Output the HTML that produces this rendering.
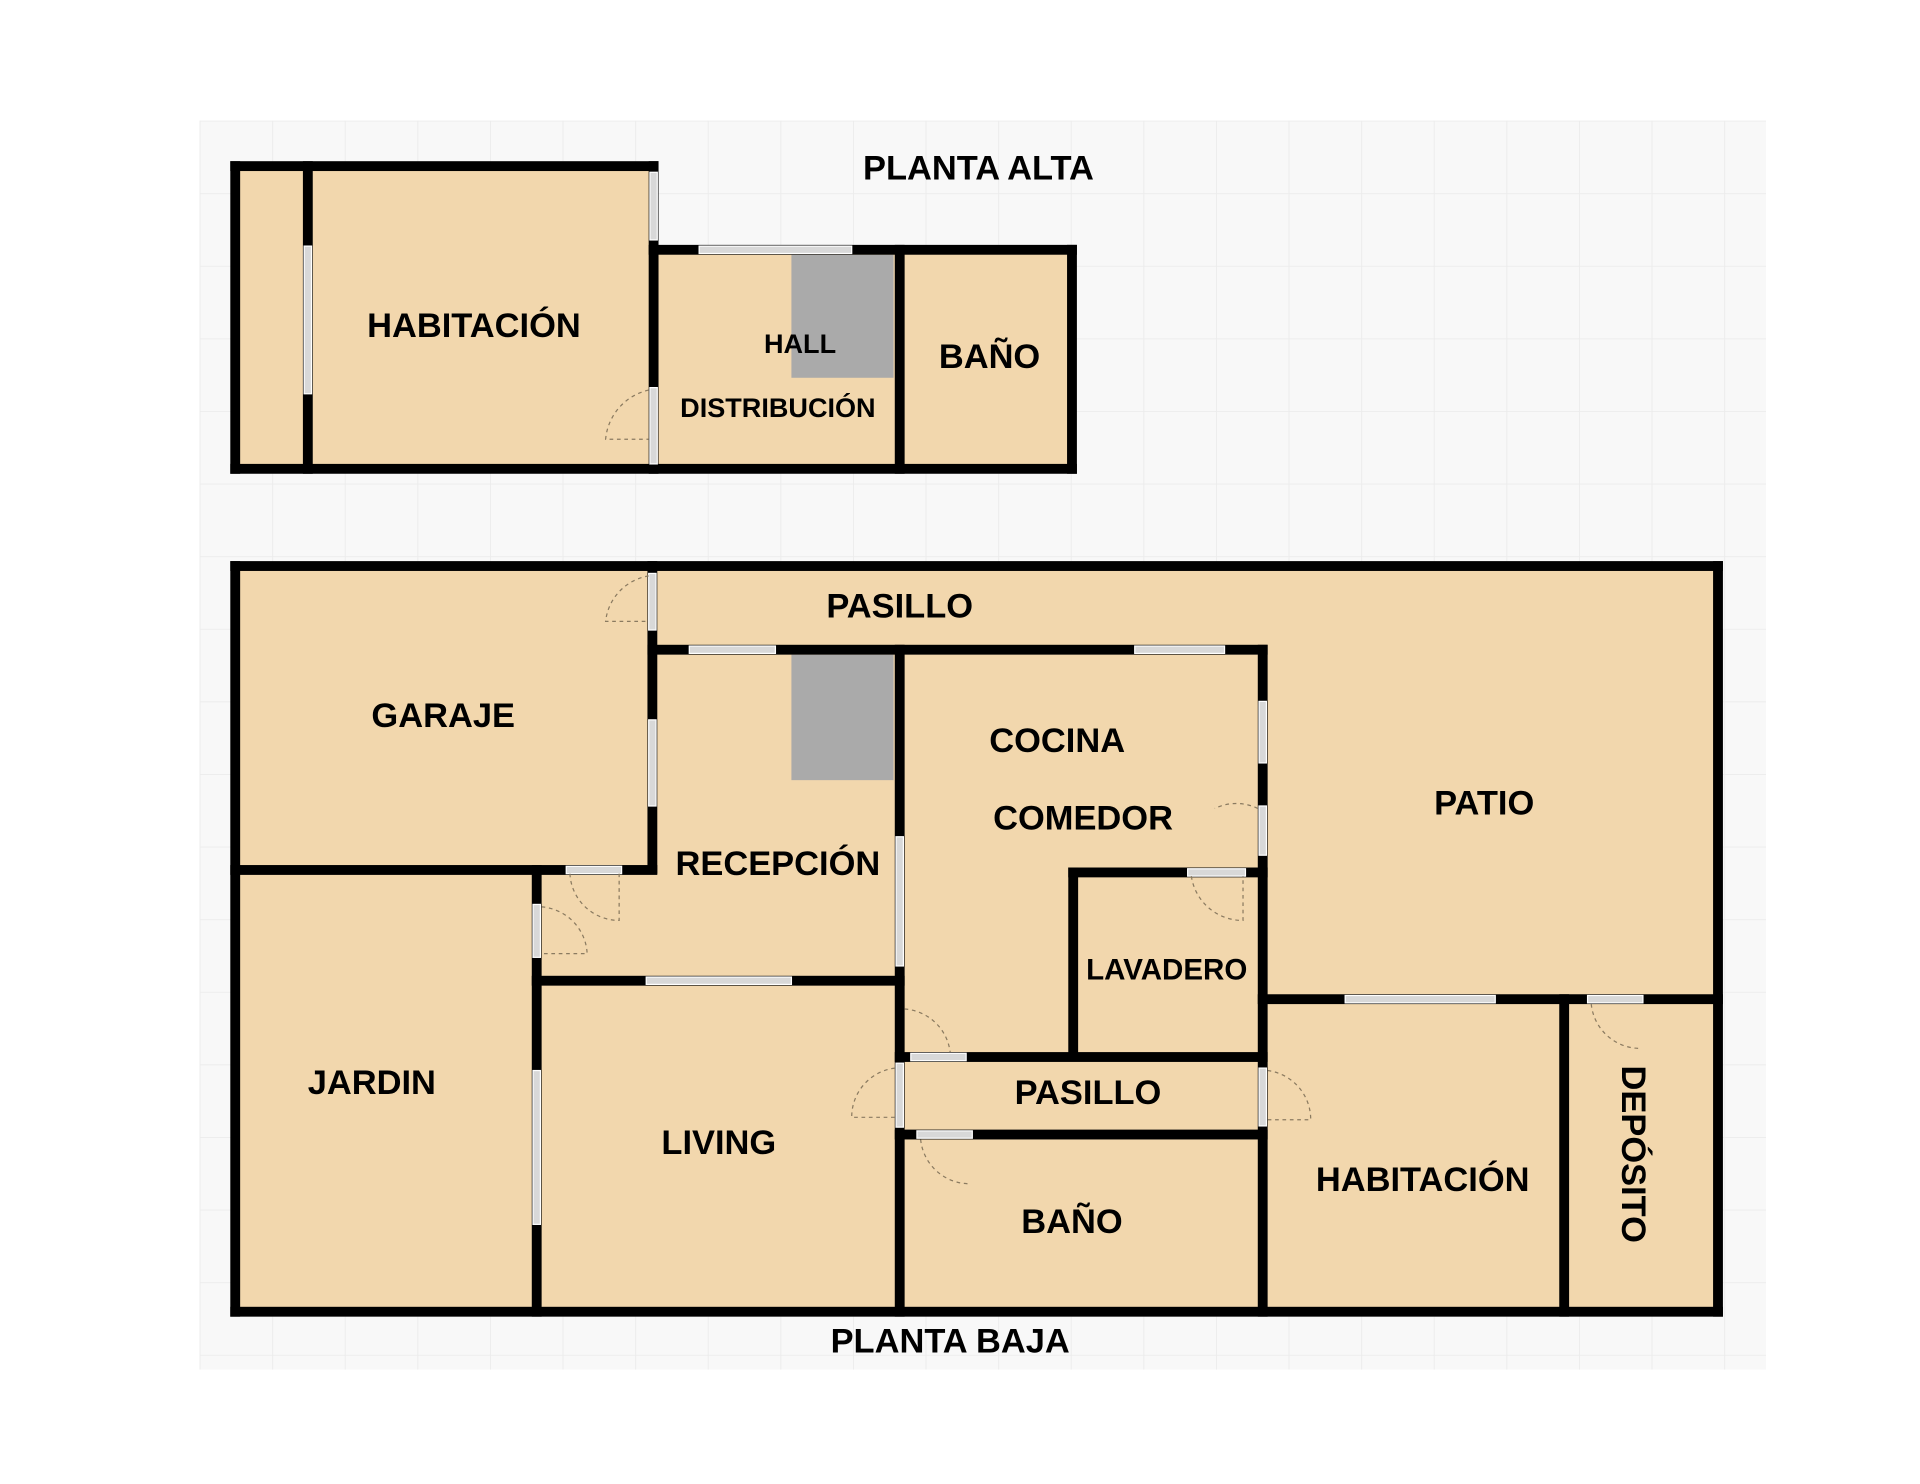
<!DOCTYPE html>
<html><head><meta charset="utf-8"><style>
html,body{margin:0;padding:0;background:#fff;}
svg{display:block;}
text{font-family:"Liberation Sans",sans-serif;font-weight:bold;fill:#000;}
</style></head><body>
<svg width="1920" height="1484" viewBox="0 0 1560 1206" xmlns="http://www.w3.org/2000/svg">
<defs>
<pattern id="g" x="162" y="98" width="59" height="59" patternUnits="userSpaceOnUse">
<path d="M0 0V59M0 0H59" stroke="#ececec" stroke-width="1.5" fill="none"/>
</pattern>
</defs>
<rect x="162" y="98" width="1273" height="1015" fill="#f8f8f8"/>
<rect x="162" y="98" width="1273" height="1015" fill="url(#g)"/>
<g fill="#f2d7ad">
<rect x="190" y="134" width="342" height="248"/>
<rect x="530" y="202" width="342" height="180"/>
<rect x="190" y="460" width="1207" height="607"/>
</g>
<g fill="#aaaaaa">
<rect x="643" y="207" width="83" height="100"/>
<rect x="643" y="532" width="83" height="102"/>
</g>
<g fill="#000">
<!-- upper -->
<rect x="187" y="131" width="348" height="8"/>
<rect x="187" y="131" width="8" height="254"/>
<rect x="246" y="131" width="8" height="254"/>
<rect x="527" y="131" width="8" height="254"/>
<rect x="527" y="199" width="348" height="8"/>
<rect x="727" y="199" width="8" height="186"/>
<rect x="867" y="199" width="8" height="186"/>
<rect x="187" y="377" width="688" height="8"/>
<!-- lower outer -->
<rect x="187" y="456" width="1213" height="8"/>
<rect x="187" y="1062" width="1213" height="8"/>
<rect x="187" y="456" width="8" height="614"/>
<rect x="1392" y="456" width="8" height="614"/>
<rect x="526" y="456" width="8" height="254"/>
<rect x="526" y="524" width="504" height="8"/>
<rect x="1022" y="524" width="8" height="546"/>
<rect x="187" y="703" width="347" height="8"/>
<rect x="432" y="703" width="8" height="367"/>
<rect x="432" y="793" width="303" height="8"/>
<rect x="727" y="524" width="8" height="546"/>
<rect x="868" y="705" width="162" height="8"/>
<rect x="868" y="705" width="8" height="155"/>
<rect x="727" y="855" width="303" height="8"/>
<rect x="727" y="918" width="303" height="8"/>
<rect x="1022" y="808" width="378" height="8"/>
<rect x="1267" y="808" width="8" height="262"/>
</g>
<!-- windows / door openings -->
<g fill="#d8d8d8" stroke="#fff" stroke-width="1">
<rect x="247" y="200" width="6" height="120"/>
<rect x="528" y="140" width="6" height="55"/>
<rect x="528" y="315" width="6" height="62"/>
<rect x="568" y="200" width="124" height="6"/>
<rect x="527" y="466" width="6" height="46"/>
<rect x="527" y="585" width="6" height="70"/>
<rect x="560" y="525" width="70" height="6"/>
<rect x="922" y="525" width="73" height="6"/>
<rect x="1023" y="570" width="6" height="50"/>
<rect x="1023" y="655" width="6" height="40"/>
<rect x="1023" y="868" width="6" height="47"/>
<rect x="460" y="704" width="45" height="6"/>
<rect x="433" y="735" width="6" height="43"/>
<rect x="433" y="870" width="6" height="125"/>
<rect x="525" y="794" width="118" height="6"/>
<rect x="728" y="680" width="6" height="105"/>
<rect x="728" y="864" width="6" height="52"/>
<rect x="965" y="706" width="47" height="6"/>
<rect x="740" y="856" width="45" height="6"/>
<rect x="745" y="919" width="45" height="6"/>
<rect x="1093" y="809" width="122" height="6"/>
<rect x="1290" y="809" width="45" height="6"/>
</g>
<g fill="none" stroke="#8a7a60" stroke-width="1" stroke-dasharray="3,3">
<path d="M527 317 A45 45 0 0 0 492 357 L527 357"/>
<path d="M527 468 A42 42 0 0 0 492 505 L527 505"/>
<path d="M1022 657 A40 40 0 0 0 987 657"/>
<path d="M463 710 A40 40 0 0 0 503 748 L503 710"/>
<path d="M440 737 A40 40 0 0 1 477 775 L440 775"/>
<path d="M968 712 A42 42 0 0 0 1010 748 L1010 712"/>
<path d="M735 820 A40 40 0 0 1 772 855"/>
<path d="M727 868 A40 40 0 0 0 692 908 L727 908"/>
<path d="M1030 870 A40 40 0 0 1 1065 910 L1030 910"/>
<path d="M748 926 A40 40 0 0 0 788 962"/>
<path d="M1293 816 A40 40 0 0 0 1333 852"/>
</g>
<g font-size="28">
<text x="795" y="146" text-anchor="middle">PLANTA ALTA</text>
<text x="385" y="274" text-anchor="middle">HABITACIÓN</text>
<text x="650" y="287" text-anchor="middle" font-size="22">HALL</text>
<text x="632" y="339" text-anchor="middle" font-size="22">DISTRIBUCIÓN</text>
<text x="804" y="299" text-anchor="middle">BAÑO</text>
<text x="731" y="502" text-anchor="middle">PASILLO</text>
<text x="360" y="591" text-anchor="middle">GARAJE</text>
<text x="859" y="611" text-anchor="middle">COCINA</text>
<text x="880" y="674" text-anchor="middle">COMEDOR</text>
<text x="1206" y="662" text-anchor="middle">PATIO</text>
<text x="632" y="711" text-anchor="middle">RECEPCIÓN</text>
<text x="948" y="796" text-anchor="middle" font-size="24">LAVADERO</text>
<text x="302" y="889" text-anchor="middle">JARDIN</text>
<text x="884" y="897" text-anchor="middle">PASILLO</text>
<text x="584" y="938" text-anchor="middle">LIVING</text>
<text x="1156" y="968" text-anchor="middle">HABITACIÓN</text>
<text x="871" y="1002" text-anchor="middle">BAÑO</text>
<text transform="translate(1318,938) rotate(90)" text-anchor="middle">DEPÓSITO</text>
<text x="772" y="1099" text-anchor="middle">PLANTA BAJA</text>
</g>
</svg>
</body></html>
